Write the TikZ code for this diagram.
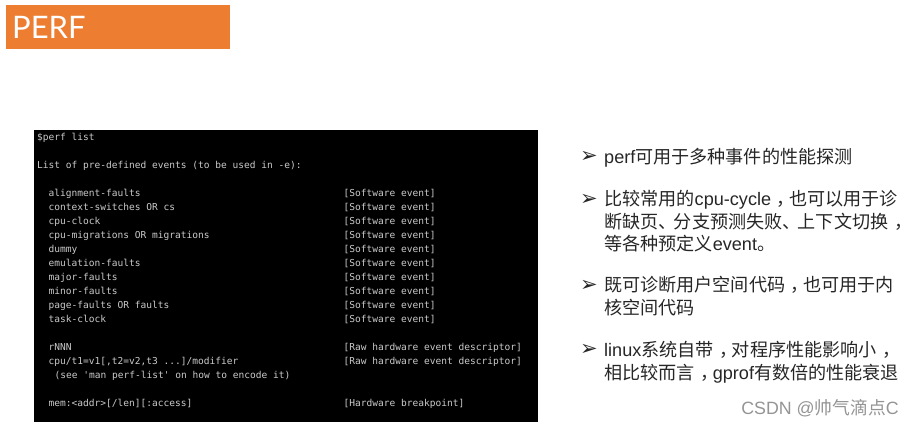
\documentclass[tikz,border=0pt]{standalone}
\usepackage{fontspec}
\setmainfont{Liberation Sans}
\setmonofont{DejaVu Sans Mono}
\newfontfamily\cjk{Noto Sans CJK SC}
\newfontfamily\titlefont{Lato}
\newfontfamily\arrowfont{DejaVu Sans}
\newcommand{\midcomma}{{\cjk\hspace{.32em}，\hspace{-.32em}}}
\newcommand{\tightstop}{{\cjk 、\hspace{-.15em}}}
\usepackage{xcolor}
\definecolor{bannerorange}{HTML}{ED7D31}
\definecolor{termgray}{HTML}{CACACA}
\tikzset{
  termtext/.style={anchor=west, inner sep=0pt, text height=7pt, text depth=2pt, text=termgray, font=\ttfamily\fontsize{9.55}{14}\selectfont},
  bullettext/.style={anchor=north west, inner sep=0pt, align=left, text=black!85, font=\fontsize{18.1}{22.6}\selectfont},
  bulletmark/.style={anchor=center, inner sep=0pt, text=black!85, font=\arrowfont\fontsize{21}{21}\selectfont}
}
\begin{document}
\begin{tikzpicture}[x=1pt, y=-1pt]
\useasboundingbox (0,0) rectangle (913,427);

% Title banner
\draw[fill=bannerorange, draw=none] (6,5) rectangle (230,49);
\node[anchor=west, inner sep=0pt, text=white, font=\titlefont\fontsize{31}{31}\selectfont] (title) at (12,27) {PERF};

% Terminal window
\draw[fill=black, draw=none] (34,130) rectangle (538,422);
\node[termtext] (cmd) at (37,138) {\$perf list};
\node[termtext] (listhead) at (37,166) {List of pre-defined events (to be used in -e):};

% Software events
\foreach \name [count=\i from 0] in {alignment-faults, context-switches OR cs, cpu-clock, cpu-migrations OR migrations, dummy, emulation-faults, major-faults, minor-faults, page-faults OR faults, task-clock} {
    \node[termtext] (event\i) at (48.5,194+\i*14) {\name};
    \node[termtext] (kind\i) at (343.5,194+\i*14) {[Software event]};
}

% Raw and hardware events
\node[termtext] (rnnn) at (48.5,348) {rNNN};
\node[termtext] (rnnnkind) at (343.5,348) {[Raw hardware event descriptor]};
\node[termtext] (cpu) at (48.5,362) {cpu/t1=v1[,t2=v2,t3 ...]/modifier};
\node[termtext] (cpukind) at (343.5,362) {[Raw hardware event descriptor]};
\node[termtext] (see) at (54.5,376) {(see 'man perf-list' on how to encode it)};
\node[termtext] (mem) at (48.5,404) {mem:<addr>[/len][:access]};
\node[termtext] (memkind) at (343.5,404) {[Hardware breakpoint]};

% Bullets on the right
\node[bulletmark] (mark1) at (589,157) {➢};
\node[bullettext] (point1) at (604,148) {perf{\cjk 可用于多种事件的性能探测}};

\node[bulletmark] (mark2) at (589,200) {➢};
\node[bullettext] (point2) at (604,190) {{\cjk 比较常用的}cpu-cycle\midcomma{\cjk 也可以用于诊}\\{\cjk 断缺页}\tightstop{\cjk 分支预测失败}\tightstop{\cjk 上下文切换}\midcomma\\{\cjk 等各种预定义}event{\cjk 。}};

\node[bulletmark] (mark3) at (589,286) {➢};
\node[bullettext] (point3) at (604,276) {{\cjk 既可诊断用户空间代码}\midcomma{\cjk 也可用于内}\\{\cjk 核空间代码}};

\node[bulletmark] (mark4) at (589,350) {➢};
\node[bullettext] (point4) at (604,341) {linux{\cjk 系统自带}\midcomma{\cjk 对程序性能影响小}\midcomma\\{\cjk 相比较而言}\midcomma gprof{\cjk 有数倍的性能衰退}};

% Watermark
\node[anchor=east, inner sep=0pt, text=black!42, font=\fontsize{17.8}{18}\selectfont] (mark) at (899,408) {CSDN @{\cjk 帅气滴点}C};

\end{tikzpicture}
\end{document}
